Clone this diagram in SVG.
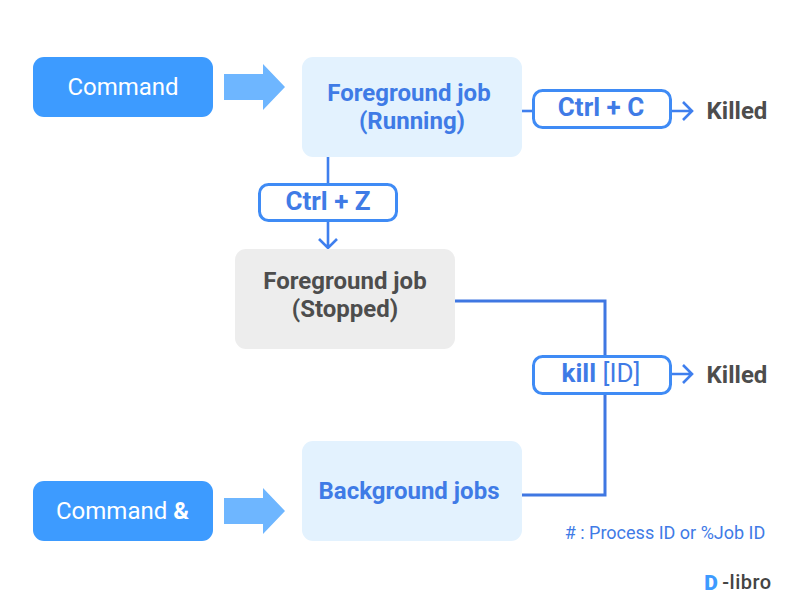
<svg xmlns="http://www.w3.org/2000/svg" width="800" height="600" viewBox="0 0 800 600">
<style>
text{font-family:Roboto,"Liberation Sans",sans-serif;text-anchor:middle}
.cmd{fill:#3d9bff}
.fg{fill:#e3f2fe}
.gr{fill:#ededed}
.bigarrow{fill:#6eb6ff}
.lbl{fill:#fff;stroke:#3f8bf5;stroke-width:3}
.wire{fill:none;stroke:#3f77e2;stroke-width:3}
.wire2{fill:none;stroke:#3f7fee;stroke-width:2.6}
.white{fill:#fff;font-size:24px}
.blue{fill:#3f7be6;font-size:24px;font-weight:700}
.dark{fill:#4d4d4d;font-size:24px;font-weight:700}
.lb{fill:#3f7be6;font-size:26px;font-weight:700}
.killed{fill:#4d4d4d;font-size:24px;font-weight:700}
</style>
<rect width="800" height="600" fill="#fff"/>
<g id="connectors">
<path class="wire2" d="M328 157V184"/>
<path class="wire2" d="M328 220V248M319 239L328 248L337 239"/>
<path class="wire2" d="M522 111H533"/>
<path class="wire2" d="M671 111H692M683 102L692 111L683 120"/>
<path class="wire" d="M455 301H605V495H522"/>
<path class="wire2" d="M671 374H692M683 365L692 374L683 383"/>
<path class="bigarrow" d="M224 74H263V64L285 87L263 110V100H224Z"/>
<path class="bigarrow" d="M224 498H263V488L285 511L263 534V524H224Z"/>
</g>
<g id="command1"><rect class="cmd" x="33" y="57" width="180" height="60" rx="11"/><text class="white" x="123" y="95">Command</text></g>
<g id="command2"><rect class="cmd" x="33" y="481" width="180" height="60" rx="11"/><text class="white" x="122.500" y="519">Command <tspan font-weight="700">&amp;</tspan></text></g>
<g id="foreground-running"><rect class="fg" x="302" y="57" width="220" height="100" rx="11"/><text class="blue" x="409" y="101">Foreground job</text><text class="blue" x="412" y="129">(Running)</text></g>
<g id="foreground-stopped"><rect class="gr" x="235" y="249" width="220" height="100" rx="11"/><text class="dark" x="345" y="289">Foreground job</text><text class="dark" x="345" y="317">(Stopped)</text></g>
<g id="background-jobs"><rect class="fg" x="302" y="441" width="220" height="100" rx="11"/><text class="blue" x="409" y="499">Background jobs</text></g>
<g id="ctrl-c"><rect class="lbl" x="533.500" y="90.500" width="137" height="37" rx="9"/><text class="lb" x="601" y="116">Ctrl + C</text></g>
<g id="ctrl-z"><rect class="lbl" x="259.500" y="184.500" width="137" height="36" rx="9"/><text class="lb" x="328" y="210">Ctrl + Z</text></g>
<g id="kill-id"><rect class="lbl" x="533.500" y="356.500" width="137" height="37" rx="9"/><text x="601" y="382" font-size="26px" fill="#3f7be6"><tspan font-weight="700">kill</tspan> [ID]</text></g>
<g id="killed1"><text class="killed" x="737" y="119">Killed</text></g>
<g id="killed2"><text class="killed" x="737" y="383">Killed</text></g>
<text x="665" y="539" font-size="18px" fill="#3f7be6"># : Process ID or %Job ID</text>
<g id="logo"><text x="711" y="590" font-size="21px" font-weight="900" fill="#3d9bff">D</text><text x="747" y="589" font-size="20px" font-weight="500" letter-spacing="0.500" fill="#444">-libro</text></g>
</svg>
